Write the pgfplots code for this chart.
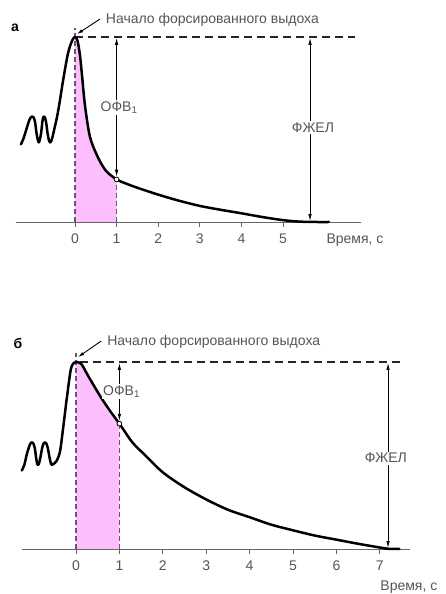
\documentclass[border=0pt]{standalone}
\usepackage{fontspec}
\setmainfont{Liberation Sans}
\usepackage{pgfplots}
\usepackage{pgfplotstable}
\pgfplotsset{compat=1.18}
\usepgfplotslibrary{fillbetween}
\usetikzlibrary{arrows.meta}

\definecolor{fev}{RGB}{252,190,252}
\definecolor{vdash}{RGB}{105,85,115}
\definecolor{txt}{RGB}{85,85,85}

% normal exhalation: time (s), volume (fraction of FVC)
\pgfplotstableread{
t v
-1.30 0.42
-1.24 0.45
-1.17 0.50
-1.10 0.55
-1.065 0.565
-1.03 0.57
-0.995 0.565
-0.96 0.54
-0.925 0.48
-0.89 0.44
-0.87 0.43
-0.85 0.44
-0.815 0.48
-0.785 0.54
-0.765 0.565
-0.745 0.57
-0.725 0.565
-0.695 0.54
-0.66 0.48
-0.625 0.44
-0.60 0.43
-0.575 0.435
-0.54 0.46
-0.50 0.50
-0.43 0.57
-0.36 0.66
-0.29 0.76
-0.17 0.91
-0.07 0.98
0.00 1.00
0.06 0.98
0.12 0.90
0.17 0.79
0.24 0.63
0.36 0.46
0.55 0.35
0.75 0.275
1.00 0.23
1.20 0.21
1.50 0.185
2.00 0.148
2.50 0.115
3.00 0.087
3.50 0.066
4.00 0.047
4.50 0.027
5.00 0.010
5.40 0.002
5.80 0.0
6.10 0.0
}\topcurve

% obstruction
\pgfplotstableread{
t v
-1.25 0.42
-1.19 0.45
-1.13 0.51
-1.06 0.56
-1.035 0.568
-1.01 0.57
-0.985 0.565
-0.95 0.54
-0.92 0.49
-0.895 0.455
-0.875 0.45
-0.855 0.455
-0.82 0.49
-0.78 0.54
-0.745 0.565
-0.715 0.57
-0.685 0.565
-0.65 0.54
-0.61 0.49
-0.575 0.455
-0.55 0.45
-0.52 0.455
-0.45 0.47
-0.37 0.52
-0.30 0.64
-0.21 0.81
-0.12 0.96
-0.05 0.995
0.00 1.00
0.12 0.99
0.27 0.93
0.55 0.82
0.78 0.74
1.00 0.67
1.30 0.57
1.60 0.50
2.00 0.41
2.50 0.33
3.00 0.265
3.50 0.21
4.00 0.17
4.50 0.13
5.00 0.10
5.50 0.072
6.00 0.05
6.50 0.028
7.00 0.008
7.20 0.001
7.45 0.0
}\botcurve

\pgfplotsset{
  spiro/.style={
    axis x line=bottom, axis y line=none,
    axis line style={-, draw=gray!80!black, line width=0.8pt},
    ymin=0, ymax=1.15, enlargelimits=false, clip=false,
    tick align=outside, major tick length=5pt,
    tick style={draw=gray!80!black, line width=0.8pt},
    xticklabel style={font=\fontsize{14}{16}\selectfont, text=txt, yshift=-3pt},
    /pgf/number format/assume math mode=true,
    anchor=origin,
  },
  spirocurve/.style={black, line width=2.5pt, smooth, line join=round, line cap=round},
}
\tikzset{
  dim/.style={{Latex[length=7pt,width=3.5pt]}-{Latex[length=7pt,width=3.5pt]}, line width=0.8pt},
  lbl/.style={font=\fontsize{14}{16}\selectfont, text=txt},
}

\begin{document}
\begin{tikzpicture}

% ---- а ----
\begin{axis}[spiro, at={(75pt,372pt)}, x=41.6pt, y=185pt,
  xmin=-1.42, xmax=6.88, xtick={0,...,5}]
\addplot[name path=A, draw=none, smooth] table {\topcurve};
\addplot[name path=B, draw=none] coordinates {(-1.5,0) (7,0)};
\addplot[fev] fill between[of=A and B, soft clip={domain=0:1}];
\addplot[vdash, line width=1.2pt, dash pattern=on 5pt off 3pt] coordinates {(0,0) (0,1.05)};
\addplot[vdash, line width=1.2pt, dash pattern=on 5pt off 3pt] coordinates {(1,0) (1,0.23)};
\addplot[black!85, line width=1.3pt, dash pattern=on 8pt off 5pt] coordinates {(0,1) (6.73,1)};
\addplot[spirocurve] table {\topcurve};
\addplot[only marks, mark=*, mark size=2.4pt, mark options={fill=white, draw=black, line width=0.8pt}] coordinates {(1,0.23)};
\draw[dim] (axis cs:1,0.995) -- (axis cs:1,0.245);
\node[lbl, fill=white, inner sep=1.5pt] at (axis cs:1.06,0.62) {ОФВ\textsubscript{1}};
\draw[dim] (axis cs:5.65,0.995) -- (axis cs:5.65,0.005);
\node[lbl, fill=white, inner sep=1.5pt] at (axis cs:5.72,0.51) {ФЖЕЛ};
\draw[-{Latex[length=6pt,width=3.5pt]}, line width=0.9pt] (axis cs:0.60,1.097) -- (axis cs:0.05,1.016);
\node[lbl, anchor=west] at (axis cs:0.66,1.092) {Начало форсированного выдоха};
\node[font=\fontsize{14}{16}\selectfont\bfseries] at (axis cs:-1.44,1.05) {а};
\node[lbl] at (axis cs:6.73,-0.097) {Время, с};
\end{axis}

% ---- б ----
\begin{axis}[spiro, at={(76pt,45pt)}, x=43.4pt, y=187pt,
  xmin=-1.24, xmax=7.7, xtick={0,...,7}]
\addplot[name path=C, draw=none, smooth] table {\botcurve};
\addplot[name path=D, draw=none] coordinates {(-1.5,0) (8,0)};
\addplot[fev] fill between[of=C and D, soft clip={domain=0:1}];
\addplot[vdash, line width=1.2pt, dash pattern=on 5pt off 3pt] coordinates {(0,0) (0,1.05)};
\addplot[vdash, line width=1.2pt, dash pattern=on 5pt off 3pt] coordinates {(1,0) (1,0.67)};
\addplot[black!85, line width=1.3pt, dash pattern=on 8pt off 5pt] coordinates {(0.1,1) (7.58,1)};
\addplot[spirocurve] table {\botcurve};
\addplot[only marks, mark=*, mark size=2.4pt, mark options={fill=white, draw=black, line width=0.8pt}] coordinates {(1,0.67)};
\draw[dim] (axis cs:1,0.995) -- (axis cs:1,0.685);
\node[lbl, fill=white, inner sep=1.5pt] at (axis cs:1.05,0.84) {ОФВ\textsubscript{1}};
\draw[dim] (axis cs:7.19,0.995) -- (axis cs:7.19,0.005);
\node[lbl, fill=white, inner sep=1.5pt] at (axis cs:7.14,0.486) {ФЖЕЛ};
\draw[-{Latex[length=6pt,width=3.5pt]}, line width=0.9pt] (axis cs:0.58,1.112) -- (axis cs:0.05,1.027);
\node[lbl, anchor=west] at (axis cs:0.64,1.107) {Начало форсированного выдоха};
\node[font=\fontsize{14}{16}\selectfont\bfseries] at (axis cs:-1.34,1.10) {б};
\node[lbl] at (axis cs:7.67,-0.203) {Время, с};
\end{axis}

\pgfresetboundingbox
\path[use as bounding box] (0,0) rectangle (445pt,594pt);
\end{tikzpicture}
\end{document}
